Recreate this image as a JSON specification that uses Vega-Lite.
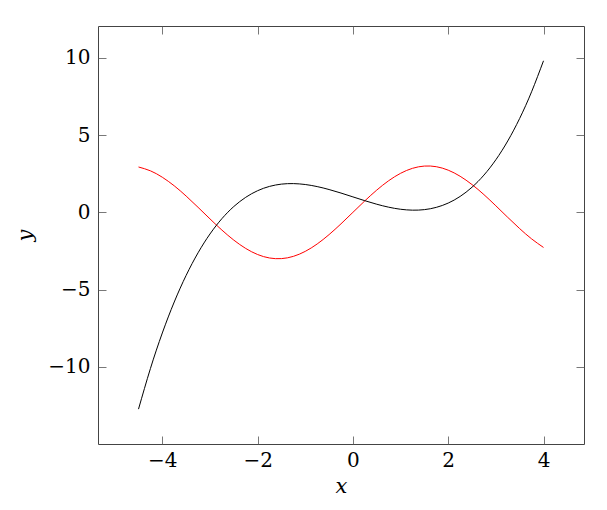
{
  "$schema": "https://vega.github.io/schema/vega-lite/v6.json",
  "autosize": "none",
  "padding": {"left": 98, "top": 26, "right": 23, "bottom": 66},
  "width": 486,
  "height": 418,
  "background": "white",
  "config": {
    "view": {"stroke": "#444", "strokeWidth": 1},
    "axis": {
      "grid": false,
      "domain": false,
      "tickColor": "#555",
      "tickWidth": 0.8,
      "tickSize": -8,
      "labelFont": "DejaVu Serif",
      "labelFontSize": 20,
      "labelColor": "black",
      "titleFont": "DejaVu Serif",
      "titleFontSize": 21,
      "titleFontStyle": "italic",
      "titleFontWeight": "normal",
      "titleColor": "black"
    }
  },
  "datasets": {
    "curves": [
      {"x": -4.5, "y": -12.725, "series": "cubic"},
      {"x": -4.25, "y": -10.103, "series": "cubic"},
      {"x": -4, "y": -7.8, "series": "cubic"},
      {"x": -3.75, "y": -5.797, "series": "cubic"},
      {"x": -3.5, "y": -4.075, "series": "cubic"},
      {"x": -3.25, "y": -2.616, "series": "cubic"},
      {"x": -3, "y": -1.4, "series": "cubic"},
      {"x": -2.75, "y": -0.409, "series": "cubic"},
      {"x": -2.5, "y": 0.375, "series": "cubic"},
      {"x": -2.25, "y": 0.972, "series": "cubic"},
      {"x": -2, "y": 1.4, "series": "cubic"},
      {"x": -1.75, "y": 1.678, "series": "cubic"},
      {"x": -1.5, "y": 1.825, "series": "cubic"},
      {"x": -1.25, "y": 1.859, "series": "cubic"},
      {"x": -1, "y": 1.8, "series": "cubic"},
      {"x": -0.75, "y": 1.666, "series": "cubic"},
      {"x": -0.5, "y": 1.475, "series": "cubic"},
      {"x": -0.25, "y": 1.247, "series": "cubic"},
      {"x": 0, "y": 1, "series": "cubic"},
      {"x": 0.25, "y": 0.753, "series": "cubic"},
      {"x": 0.5, "y": 0.525, "series": "cubic"},
      {"x": 0.75, "y": 0.334, "series": "cubic"},
      {"x": 1, "y": 0.2, "series": "cubic"},
      {"x": 1.25, "y": 0.141, "series": "cubic"},
      {"x": 1.5, "y": 0.175, "series": "cubic"},
      {"x": 1.75, "y": 0.322, "series": "cubic"},
      {"x": 2, "y": 0.6, "series": "cubic"},
      {"x": 2.25, "y": 1.028, "series": "cubic"},
      {"x": 2.5, "y": 1.625, "series": "cubic"},
      {"x": 2.75, "y": 2.409, "series": "cubic"},
      {"x": 3, "y": 3.4, "series": "cubic"},
      {"x": 3.25, "y": 4.616, "series": "cubic"},
      {"x": 3.5, "y": 6.075, "series": "cubic"},
      {"x": 3.75, "y": 7.797, "series": "cubic"},
      {"x": 4, "y": 9.8, "series": "cubic"},
      {"x": -4.5, "y": 2.933, "series": "sine"},
      {"x": -4.25, "y": 2.685, "series": "sine"},
      {"x": -4, "y": 2.27, "series": "sine"},
      {"x": -3.75, "y": 1.715, "series": "sine"},
      {"x": -3.5, "y": 1.052, "series": "sine"},
      {"x": -3.25, "y": 0.325, "series": "sine"},
      {"x": -3, "y": -0.423, "series": "sine"},
      {"x": -2.75, "y": -1.145, "series": "sine"},
      {"x": -2.5, "y": -1.795, "series": "sine"},
      {"x": -2.25, "y": -2.334, "series": "sine"},
      {"x": -2, "y": -2.728, "series": "sine"},
      {"x": -1.75, "y": -2.952, "series": "sine"},
      {"x": -1.5, "y": -2.992, "series": "sine"},
      {"x": -1.25, "y": -2.847, "series": "sine"},
      {"x": -1, "y": -2.524, "series": "sine"},
      {"x": -0.75, "y": -2.045, "series": "sine"},
      {"x": -0.5, "y": -1.438, "series": "sine"},
      {"x": -0.25, "y": -0.742, "series": "sine"},
      {"x": 0, "y": 0, "series": "sine"},
      {"x": 0.25, "y": 0.742, "series": "sine"},
      {"x": 0.5, "y": 1.438, "series": "sine"},
      {"x": 0.75, "y": 2.045, "series": "sine"},
      {"x": 1, "y": 2.524, "series": "sine"},
      {"x": 1.25, "y": 2.847, "series": "sine"},
      {"x": 1.5, "y": 2.992, "series": "sine"},
      {"x": 1.75, "y": 2.952, "series": "sine"},
      {"x": 2, "y": 2.728, "series": "sine"},
      {"x": 2.25, "y": 2.334, "series": "sine"},
      {"x": 2.5, "y": 1.795, "series": "sine"},
      {"x": 2.75, "y": 1.145, "series": "sine"},
      {"x": 3, "y": 0.423, "series": "sine"},
      {"x": 3.25, "y": -0.325, "series": "sine"},
      {"x": 3.5, "y": -1.052, "series": "sine"},
      {"x": 3.75, "y": -1.715, "series": "sine"},
      {"x": 4, "y": -2.27, "series": "sine"}
    ]
  },
  "data": {"name": "curves"},
  "resolve": {"axis": {"x": "independent", "y": "independent"}},
  "layer": [
    {
      "transform": [{"filter": "datum.series === 'sine'"}],
      "mark": {"type": "line", "interpolate": "natural", "color": "#ff0000", "strokeWidth": 1},
      "encoding": {
        "x": {
          "field": "x", "type": "quantitative",
          "scale": {"domain": [-5.35, 4.85], "nice": false, "zero": false},
          "axis": {"orient": "top", "labels": false, "title": null, "values": [-4, -2, 0, 2, 4]}
        },
        "y": {
          "field": "y", "type": "quantitative",
          "scale": {"domain": [-14.98, 12.05], "nice": false, "zero": false},
          "axis": {"orient": "right", "labels": false, "title": null, "values": [-10, -5, 0, 5, 10]}
        }
      }
    },
    {
      "transform": [{"filter": "datum.series === 'cubic'"}],
      "mark": {"type": "line", "interpolate": "natural", "color": "black", "strokeWidth": 1},
      "encoding": {
        "x": {
          "field": "x", "type": "quantitative",
          "scale": {"domain": [-5.35, 4.85], "nice": false, "zero": false},
          "axis": {"orient": "bottom", "title": "x", "values": [-4, -2, 0, 2, 4], "labelPadding": 14, "titlePadding": 5}
        },
        "y": {
          "field": "y", "type": "quantitative",
          "scale": {"domain": [-14.98, 12.05], "nice": false, "zero": false},
          "axis": {"orient": "left", "title": "y", "values": [-10, -5, 0, 5, 10], "labelPadding": 16, "titlePadding": 12}
        }
      }
    }
  ]
}
